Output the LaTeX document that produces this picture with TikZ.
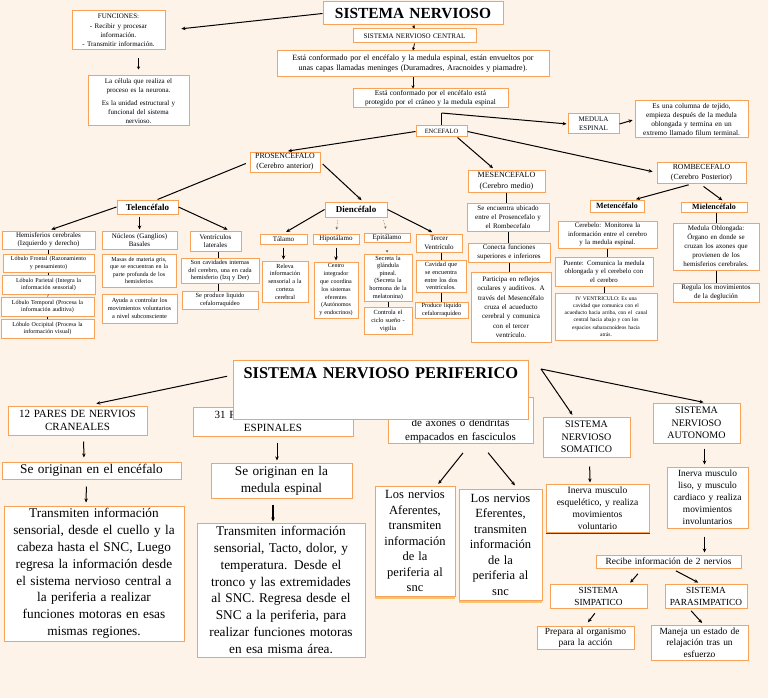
\documentclass[tikz,border=0pt]{standalone}
\usepackage{fontspec}
\setmainfont{Liberation Serif}
\usetikzlibrary{arrows.meta}
\definecolor{bgc}{RGB}{253,243,233}
\definecolor{boxc}{RGB}{247,162,88}
\definecolor{shadowc}{RGB}{250,196,110}
\newcommand\fsz[2]{\fontsize{#1}{#2}\selectfont}
\begin{document}
\begin{tikzpicture}[x=1pt,y=-1pt,
    box/.style={draw=boxc,fill=white,line width=1pt,inner xsep=0pt,inner ysep=0pt,align=center},
    wh/.style 2 args={text width=#1pt,minimum height=#2pt},
    arr/.style={line width=1pt,-{Stealth[length=4pt,width=3.5pt]}},
    sarr/.style={line width=0.8pt,-{Stealth[length=3pt,width=3pt]}},
    ln/.style={line width=1pt},
    dots/.style={line width=0.5pt,densely dotted,black!60,-{Stealth[length=2.5pt,width=2.5pt]}},
    shd/.style={line width=2.5pt,draw=shadowc}]
    %% Background
    \useasboundingbox[fill=bgc] (0,0) rectangle (768,698);
    %% Sistema nervioso central
    \node[box,wh={180}{23},font=\fsz{15.4}{18}\bfseries] (sn) at (413,13.5) {SISTEMA NERVIOSO};
    \node[box,wh={93}{39},font=\fsz{7}{9.3}] (fun) at (118.5,30.5) {FUNCIONES:\\- Recibir y procesar\\información.\\- Transmitir información.};
    \node[box,wh={101}{50},font=\fsz{7}{9}] (cel) at (138.5,101) {La célula que realiza el\\proceso es la neurona.\\[4pt]Es la unidad estructural y\\funcional del sistema\\nervioso.};
    \node[box,wh={123}{14},font=\fsz{7}{9}] (snc) at (414.5,36) {SISTEMA NERVIOSO CENTRAL};
    \node[box,wh={272}{26},font=\fsz{8}{10}] (conf) at (413,64) {Está conformado por el encéfalo y la medula espinal, están envueltos por\\unas capas llamadas meninges (Duramadres, Aracnoides y piamadre).};
    \node[box,wh={155}{19},font=\fsz{7.3}{9}] (prot) at (430.5,98.5) {Está conformado por el encéfalo está\\protegido por el cráneo y la medula espinal};
    \node[box,wh={51}{11},font=\fsz{6.5}{8}] (enc) at (441.5,131.5) {ENCEFALO};
    \node[box,wh={51}{20},font=\fsz{7}{9}] (med) at (593.5,124) {MEDULA\\ESPINAL};
    \node[box,wh={113}{37},font=\fsz{7.3}{9}] (col) at (691.5,119.5) {Es una columna de tejido,\\empieza después de la medula\\oblongada y termina en un\\extremo llamado filum terminal.};
    %% Encefalo
    \node[box,wh={70}{20},font=\fsz{7.8}{10}] (pros) at (285,162) {PROSENCEFALO\\(Cerebro anterior)};
    \node[box,wh={77}{22},font=\fsz{8}{11}] (mes) at (506.5,181) {MESENCEFALO\\(Cerebro medio)};
    \node[box,wh={89}{21},font=\fsz{7.8}{10.5}] (romb) at (701.5,172.5) {ROMBECEFALO\\(Cerebro Posterior)};
    \node[box,wh={61}{14},font=\fsz{9}{11}\bfseries] (tel) at (147.5,207) {Telencéfalo};
    \node[box,wh={62}{15},font=\fsz{9}{11}\bfseries] (dien) at (356,209.5) {Diencéfalo};
    %% Telencefalo
    \node[box,wh={93}{18},font=\fsz{7}{8.5}] (hem) at (48.5,240) {Hemisferios cerebrales\\(Izquierdo y derecho)};
    \node[box,wh={91}{18},font=\fsz{6}{7.5}] (lf) at (48.5,263) {Lóbulo Frontal (Razonamiento\\y pensamiento)};
    \node[box,wh={93}{19},font=\fsz{6}{7.5}] (lp) at (48.5,284.5) {Lóbulo Parietal (Integra la\\información sensorial)};
    \node[box,wh={93}{19},font=\fsz{6}{7.5}] (lt) at (47.5,306.5) {Lóbulo Temporal (Procesa la\\información auditiva)};
    \node[box,wh={93}{19},font=\fsz{6}{7.5}] (lo) at (47.5,328.5) {Lóbulo Occipital (Procesa la\\información visual)};
    \node[box,wh={75}{18},font=\fsz{7}{8.5}] (nuc) at (139.5,240) {Núcleos (Ganglios)\\Basales};
    \node[box,wh={74}{33},font=\fsz{6}{7.5}] (mas) at (139,270.5) {Masas de materia gris,\\que se encuentran en la\\parte profunda de los\\hemisferios};
    \node[box,wh={75}{29},font=\fsz{6.3}{8.3}] (ayu) at (139.5,308.5) {Ayuda a controlar los\\movimientos voluntarios\\a nivel subconsciente};
    \node[box,wh={51}{20},font=\fsz{7}{8.5}] (ven) at (215.5,241) {Ventrículos\\laterales};
    \node[box,wh={78}{25},font=\fsz{6.3}{7.8}] (cav) at (220,270.5) {Son cavidades internas\\del cerebro, una en cada\\hemisferio (Izq y Der)};
    \node[box,wh={76}{18},font=\fsz{6.3}{7.8}] (liq1) at (220,300) {Se produce liquido\\cefalorraquídeo};
    %% Diencefalo
    \node[box,wh={47}{10},font=\fsz{7}{8}] (tal) at (283.5,239) {Tálamo};
    \node[box,wh={46}{41},font=\fsz{6.2}{7.7}] (rel) at (285,281.5) {Releva\\información\\sensorial a la\\corteza\\cerebral};
    \node[box,wh={46}{10},font=\fsz{7}{8}] (hip) at (336,239) {Hipotálamo};
    \node[box,wh={44}{56},font=\fsz{6}{7.8}] (cen) at (336,290) {Centro\\integrador\\que coordina\\los sistemas\\eferentes\\(Autónomos\\y endocrinos)};
    \node[box,wh={46}{9},font=\fsz{7}{8}] (epi) at (387,237.5) {Epitálamo};
    \node[box,wh={48}{47},font=\fsz{6.3}{7.6}] (sec) at (388,277.5) {Secreta la\\glándula\\pineal.\\(Secreta la\\hormona de la\\melatonina)};
    \node[box,wh={48}{27},font=\fsz{6.3}{8}] (con) at (388,320.5) {Controla el\\ciclo sueño -\\vigilia};
    \node[box,wh={46}{18},font=\fsz{7}{8.5}] (ter) at (439,243) {Tercer\\Ventrículo};
    \node[box,wh={50}{32},font=\fsz{6.3}{7.8}] (cvd) at (441,276) {Cavidad que\\se encuentra\\entre los dos\\ventrículos.};
    \node[box,wh={53}{16},font=\fsz{6.2}{7.5}] (liq2) at (441.5,310) {Produce liquido\\cefalorraquídeo};
    %% Mesencefalo
    \node[box,wh={82}{28},font=\fsz{7}{9}] (ubi) at (508,217) {Se encuentra ubicado\\entre el Prosencefalo y\\el Rombecefalo};
    \node[box,wh={82}{19},font=\fsz{7}{9}] (cnt) at (509,252.5) {Conecta funciones\\superiores e inferiores};
    \node[box,wh={80}{70},font=\fsz{7}{9.3}] (par) at (511,307) {Participa en reflejos\\oculares y auditivos. A\\través del Mesencéfalo\\cruza el acueducto\\cerebral y comunica\\con el tercer\\ventrículo.};
    %% Rombencefalo
    \node[box,wh={54}{12},font=\fsz{8}{10}\bfseries] (met) at (617,206) {Metencéfalo};
    \node[box,wh={66}{10},font=\fsz{8}{10}\bfseries] (miel) at (714,207) {Mielencéfalo};
    \node[box,wh={99}{27},font=\fsz{6.8}{8.8}] (cbl) at (607.5,234.5) {Cerebelo: Monitorea la\\información entre el cerebro\\y la medula espinal.};
    \node[box,wh={98}{29},font=\fsz{6.8}{8.8}] (pue) at (604,271.5) {Puente: Comunica la medula\\oblongada y el cerebelo con\\el cerebro};
    \node[box,wh={102}{47},font=\fsz{5.5}{7.3}] (iv) at (606,316.5) {IV VENTRICULO: Es una\\cavidad que comunica con el\\acueducto hacia arriba, con el\ \ canal\\central hacia abajo y con los\\espacios subaracnoideos hacia\\atrás.};
    \node[box,wh={86}{47},font=\fsz{7}{9}] (mob) at (716,246.5) {Medula Oblongada:\\Órgano en donde se\\cruzan los axones que\\provienen de los\\hemisferios cerebrales.};
    \node[box,wh={86}{19},font=\fsz{7}{9}] (reg) at (716,292.5) {Regula los movimientos\\de la deglución};
    %% Sistema nervioso periferico
    \node[box,wh={139}{29},font=\fsz{11}{13.3}] (cra) at (77.5,420.5) {12 PARES DE NERVIOS\\CRANEALES};
    \node[box,wh={160}{29},font=\fsz{11}{13.3}] (esp) at (273,421.5) {31 PARES DE NERVIOS\\ESPINALES};
    \node[box,wh={145}{46},text height=29pt,text depth=17pt,font=\fsz{11}{14}] (fas) at (460.5,420) {de axones o dendritas\\empacados en fasciculos};
    \node[box,anchor=north west,text width=275pt,inner xsep=10pt,inner ysep=2pt,align=left,text height=16pt,text depth=39pt,font=\fsz{16.4}{18}\bfseries] (snp) at (233,360) {SISTEMA NERVIOSO PERIFERICO};
    \node[box,wh={179}{17},font=\fsz{13.3}{16}] (enc1) at (91.5,470.5) {Se originan en el encéfalo};
    \node[box,wh={180}{135},font=\fsz{13.3}{16.8}] (trn1) at (94,573.5) {Transmiten información\\sensorial, desde el cuello y la\\cabeza hasta el SNC, Luego\\regresa la información desde\\el sistema nervioso central a\\la periferia a realizar\\funciones motoras en esas\\mismas regiones.};
    \node[box,wh={141}{35},font=\fsz{13.3}{17}] (med2) at (281.5,480.5) {Se originan en la\\medula espinal};
    \node[box,wh={168}{134},font=\fsz{13.3}{16.8}] (trn2) at (281,590) {Transmiten información\\sensorial, Tacto, dolor, y\\temperatura. Desde el\\tronco y las extremidades\\al SNC. Regresa desde el\\SNC a la periferia, para\\realizar funciones motoras\\en esa misma área.};
    \draw[shd] ([yshift=-1.5pt]375,596) -- ([yshift=-1.5pt]455,596);
    \draw[shd] ([yshift=-1.5pt]459,600) -- ([yshift=-1.5pt]542,600);
    \node[box,wh={80}{110},font=\fsz{12.5}{15.5}] (afe) at (415,541) {Los nervios\\Aferentes,\\transmiten\\información\\de la\\periferia al\\snc};
    \node[box,wh={83}{111},font=\fsz{12.5}{15.5}] (efe) at (500.5,544.5) {Los nervios\\Eferentes,\\transmiten\\información\\de la\\periferia al\\snc};
    \node[box,wh={87}{40},font=\fsz{10}{12.5}] (som) at (586.5,437) {SISTEMA\\NERVIOSO\\SOMATICO};
    \node[box,wh={87}{40},font=\fsz{10}{12.5}] (aut) at (696.5,423) {SISTEMA\\NERVIOSO\\AUTONOMO};
    \draw[line width=1.5pt,black!75] ([yshift=-1pt]546,532) -- ([yshift=-1pt]650,532);
    \node[box,wh={103}{48},font=\fsz{9.5}{12}] (inv) at (597.5,508) {Inerva musculo\\esquelético, y realiza\\movimientos\\voluntario};
    \node[box,wh={81}{61},font=\fsz{9.4}{12}] (ninv) at (707.5,497.5) {Inerva musculo\\liso, y musculo\\cardiaco y realiza\\movimientos\\involuntarios};
    \node[box,wh={145}{13},font=\fsz{9.4}{11}] (rec) at (668.5,561.5) {Recibe información de 2 nervios};
    \node[box,wh={97}{24},font=\fsz{9.3}{12}] (sim) at (598.5,596) {SISTEMA\\SIMPATICO};
    \node[box,wh={82}{24},font=\fsz{9.3}{12}] (para) at (706,596) {SISTEMA\\PARASIMPATICO};
    \node[box,wh={97}{23},font=\fsz{9.4}{11.5}] (prep) at (585.5,637.5) {Prepara al organismo\\para la acción};
    \node[box,wh={97}{35},font=\fsz{9.4}{11.5}] (man) at (699.5,642.5) {Maneja un estado de\\relajación tras un\\esfuerzo};
    %% Connectors top
    \draw[arr,shorten >=16pt] (sn.west) -- (fun.east);
    \draw[sarr,shorten <=8pt,shorten >=6pt] (fun.south -| cel.north) -- (cel.north);
    \draw[sarr] (sn.south) -- (snc.north);
    \draw[sarr] (snc.south) -- (conf.north);
    \draw[sarr] (conf.south) -- (conf.south |- prot.north);
    \coordinate (jn) at (441.5,113);
    \draw[ln] (enc.north) -- (jn);
    \draw[arr,shorten >=1pt] (jn) -- (med.west);
    \draw[arr,shorten >=2pt] (med.east) -- (col.west);
    \draw[arr,shorten >=3pt] (enc.west) -- (pros.north);
    \draw[arr,shorten >=2pt] ([xshift=16pt]enc.south) -- ([xshift=-12pt]mes.north);
    \draw[arr,shorten >=4pt] (enc.east) -- (romb.west);
    \draw[ln,shorten <=4pt] (pros.west) -- ([xshift=10pt]tel.north);
    \draw[arr,shorten <=3pt,shorten >=2pt] (pros.east) -- ([xshift=7pt]dien.north);
    %% Telencefalo
    \draw[arr,shorten >=3pt] (tel.west) -- (hem.north);
    \draw[arr,shorten <=2pt,shorten >=1pt] (tel.south -| nuc.north) -- (nuc.north);
    \draw[arr,shorten >=2pt] (tel.east) -- ([xshift=14pt]ven.north);
    \foreach \a/\b in {hem/lf,lf/lp,lp/lt,lt/lo} \draw[thin] (\a.south) -- (\b.north);
    \draw[ln] ([xshift=2.5pt]ven.south) -- ([xshift=-2pt]cav.north);
    \draw[ln] ([xshift=-2pt]cav.south) -- ([xshift=-2pt]liq1.north);
    %% Diencefalo
    \draw[arr,shorten >=3pt] (dien.west) -- (tal.north);
    \draw[dots,shorten <=3pt,shorten >=4pt] ([xshift=-18pt]dien.south) -- (hip.north);
    \draw[dots,shorten <=3pt,shorten >=4pt] ([xshift=-5pt]dien.south east) -- (epi.north);
    \draw[arr,shorten >=3pt] (dien.east) -- ([xshift=-4pt]ter.north);
    \draw[arr,shorten <=3pt,shorten >=1pt] (tal.south) -- (tal.south |- rel.north);
    \draw[arr,shorten <=3pt,shorten >=1pt] (hip.south) -- (hip.south |- cen.north);
    \draw[dots,shorten <=8pt,shorten >=1pt] (epi.south) -- (epi.south |- sec.north);
    \draw[ln] (sec.south) -- (con.north);
    \draw[ln] ([xshift=2pt]ter.south) -- (cvd.north);
    \draw[ln] (cvd.south) -- (cvd.south |- liq2.north);
    %% Mesencefalo
    \draw[ln] (mes.south) -- (mes.south |- ubi.north);
    \draw[ln] (ubi.south) -- (ubi.south |- cnt.north);
    \draw[ln] (cnt.south) -- (cnt.south |- par.north);
    %% Rombencefalo
    \draw[arr,shorten <=5pt,shorten >=1pt] ([xshift=-8pt]romb.south) -- ([xshift=18pt]met.north);
    \draw[arr,shorten <=5pt,shorten >=2pt] ([xshift=-2pt]romb.south) -- ([xshift=10pt]miel.north);
    \draw[ln] (miel.south -| mob.north) -- (mob.north);
    \draw[ln] (cbl.south) -- (cbl.south |- pue.north);
    \draw[ln] (pue.south) -- (pue.south |- iv.north);
    \draw[ln] (mob.south) -- (mob.south |- reg.north);
    %% Periferico
    \draw[arr,shorten <=6pt,shorten >=9pt] ([yshift=15pt]snp.west) -- ([xshift=10pt]cra.north);
    \draw[arr,shorten <=6pt,shorten >=4pt] ([xshift=6pt]cra.south) -- ([xshift=-7.5pt]enc1.north);
    \draw[arr,shorten <=7pt,shorten >=3pt] ([xshift=-5pt]enc1.south) -- ([xshift=-8pt]trn1.north);
    \draw[arr,shorten <=6pt,shorten >=2pt] ([xshift=4pt]esp.south) -- ([xshift=-4.5pt]med2.north);
    \draw[arr,line width=1.6pt,shorten <=6pt,shorten >=1pt] ([xshift=-8.5pt]med2.south) -- ([xshift=-8pt]trn2.north);
    \draw[arr,shorten <=12pt,shorten >=2pt] ([xshift=10pt]fas.south) -- ([xshift=22pt]afe.north);
    \draw[arr,shorten <=12pt,shorten >=4pt] ([xshift=20pt]fas.south) -- ([xshift=17pt]efe.north);
    \draw[arr,shorten >=2pt] ([xshift=12pt,yshift=-9pt]snp.north east) -- ([xshift=-13pt]som.north);
    \draw[arr,shorten >=1pt] ([xshift=12pt,yshift=-9pt]snp.north east) -- ([xshift=8pt]aut.north);
    \draw[arr,shorten <=9pt,shorten >=1pt] ([xshift=3pt]som.south) -- ([xshift=-7.5pt]inv.north);
    \draw[arr,shorten <=5pt,shorten >=2pt] ([xshift=8pt]aut.south) -- ([xshift=-3pt]ninv.north);
    \draw[arr,shorten <=8pt,shorten >=2pt] ([xshift=-3pt]ninv.south) -- ([xshift=36pt]rec.north);
    \draw[arr,shorten <=7pt,shorten >=1pt] ([xshift=-26pt]rec.south) -- ([xshift=31pt]sim.north);
    \draw[arr,shorten <=5pt,shorten >=2pt] ([xshift=3pt]rec.south) -- ([xshift=-6pt]para.north);
    \draw[arr,shorten <=6pt,shorten >=4pt] (sim.south) -- (prep.north);
    \draw[arr,shorten <=3pt,shorten >=2pt] ([xshift=-17pt]para.south) -- ([xshift=4pt]man.north);
\end{tikzpicture}
\end{document}
